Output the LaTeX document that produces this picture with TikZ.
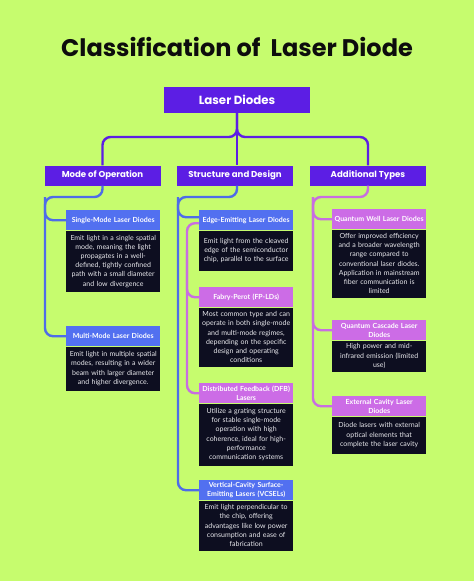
\documentclass[tikz,border=0pt]{standalone}
\usepackage{fontspec}
\setmainfont{Lato}
\newfontfamily\titlefont{Poppins}
\newfontfamily\headfont{Lato}
\usepackage{tikz}
\usetikzlibrary{positioning}
\definecolor{bggreen}{RGB}{198,252,110}
\definecolor{rootpurple}{RGB}{92,30,228}
\definecolor{headblue}{RGB}{82,112,240}
\definecolor{headpink}{RGB}{204,108,230}
\definecolor{bodydark}{RGB}{13,14,32}
\definecolor{bodytext}{RGB}{232,232,236}
\definecolor{lineblue}{RGB}{78,108,232}
\definecolor{linepink}{RGB}{200,110,225}
\tikzset{
  rootbox/.style={fill=rootpurple, text=white, minimum width=146pt, minimum height=26pt, inner sep=0pt, font=\titlefont\bfseries\fontsize{11.8}{13}\selectfont},
  catbox/.style={fill=rootpurple, text=white, minimum width=116pt, minimum height=20pt, inner sep=0pt, font=\titlefont\bfseries\fontsize{8.6}{10}\selectfont},
  subhead/.style={text=white, minimum height=20pt, text width=93pt, inner xsep=0.5pt, inner ysep=1pt, align=center, anchor=north west, font=\headfont\bfseries\fontsize{7}{8.8}\selectfont},
  bluehead/.style={subhead, fill=headblue},
  pinkhead/.style={subhead, fill=headpink},
  descbox/.style={fill=bodydark, text=bodytext, text width=93pt, inner xsep=0.5pt, inner ysep=1pt, align=center, anchor=north, font=\fontsize{7}{9.2}\selectfont},
  rootline/.style={draw=rootpurple, line width=2.4pt, rounded corners=8pt},
  blueline/.style={draw=lineblue, line width=2.4pt, rounded corners=8pt},
  pinkline/.style={draw=linepink, line width=2.4pt, rounded corners=8pt}
}

\begin{document}
\begin{tikzpicture}[x=1pt,y=-1pt]
  \fill[bggreen] (0,0) rectangle (474,581);
  \useasboundingbox (0,0) rectangle (474,581);
  \node[font=\titlefont\bfseries\fontsize{24}{27}\selectfont, text=black!95] (title) at (237,47) {Classification of\ \ Laser Diode};

  \node[rootbox] (root) at (237,100) {Laser Diodes};
  \node[catbox] (mode) at (102.5,175.5) {Mode of Operation};
  \node[catbox] (struct) at (235,175.5) {Structure and Design};
  \node[catbox] (add) at (368,175.5) {Additional Types};

  % mode of operation
  \node[bluehead] (sm) at (66,210) {Single-Mode Laser Diodes};
  \node[descbox, minimum height=61pt] (smtext) at (sm.south) {Emit light in a single spatial\\ mode, meaning the light\\ propagates in a well-\\ defined, tightly confined\\ path with a small diameter\\ and low divergence};
  \node[bluehead] (mm) at (66,326) {Multi-Mode Laser Diodes};
  \node[descbox, minimum height=44pt] (mmtext) at (mm.south) {Emit light in multiple spatial\\ modes, resulting in a wider\\ beam with larger diameter\\ and higher divergence.};

  % structure and design
  \node[bluehead] (ee) at (199,210) {Edge-Emitting Laser Diodes};
  \node[descbox, minimum height=40pt] (eetext) at (ee.south) {Emit light from the cleaved\\ edge of the semiconductor\\ chip, parallel to the surface};
  \node[pinkhead] (fp) at (199,287) {Fabry-Perot (FP-LDs)};
  \node[descbox, minimum height=59pt] (fptext) at (fp.south) {Most common type and can\\ operate in both single-mode\\ and multi-mode regimes,\\ depending on the specific\\ design and operating\\ conditions};
  \node[pinkhead] (dfb) at (199,383) {Distributed Feedback (DFB)\\ Lasers};
  \node[descbox, minimum height=62pt] (dfbtext) at (dfb.south) {Utilize a grating structure\\ for stable single-mode\\ operation with high\\ coherence, ideal for high-\\ performance\\ communication systems};
  \node[bluehead] (vc) at (199,480) {Vertical-Cavity Surface-\\ Emitting Lasers (VCSELs)};
  \node[descbox, minimum height=50pt] (vctext) at (vc.south) {Emit light perpendicular to\\ the chip, offering\\ advantages like low power\\ consumption and ease of\\ fabrication};

  % additional types
  \node[pinkhead] (qw) at (332,209) {Quantum Well Laser Diodes};
  \node[descbox, minimum height=68pt] (qwtext) at (qw.south) {Offer improved efficiency\\ and a broader wavelength\\ range compared to\\ conventional laser diodes.\\ Application in mainstream\\ fiber communication is\\ limited};
  \node[pinkhead] (qc) at (332,320) {Quantum Cascade Laser\\ Diodes};
  \node[descbox, minimum height=31pt] (qctext) at (qc.south) {High power and mid-\\ infrared emission (limited\\ use)};
  \node[pinkhead] (ec) at (332,396) {External Cavity Laser\\ Diodes};
  \node[descbox, minimum height=37pt] (ectext) at (ec.south) {Diode lasers with external\\ optical elements that\\ complete the laser cavity};

  % connectors
  \coordinate (rootSplit) at (237,137);
  \coordinate (modeSpine) at (45,197);
  \coordinate (strSpine) at (178,197);
  \coordinate (fpSpine) at (187,250);
  \coordinate (addSpine) at (313,197);
  \draw[rootline] (root.south) |- (rootSplit) -| (mode.north);
  \draw[rootline] (root.south) |- (rootSplit) -| (add.north);
  \draw[rootline] (root.south) -- (rootSplit) -- (rootSplit |- struct.north);

  \draw[blueline] (mode.south) |- (modeSpine) |- (mm.west);
  \draw[blueline] (modeSpine) |- (sm.west);

  \draw[blueline] (struct.south -| rootSplit) |- (strSpine) |- (vc.west);
  \draw[blueline] (strSpine) |- ([yshift=3pt]ee.west);
  \draw[pinkline] ([yshift=-3pt]ee.west) -| (fpSpine) |- (dfb.west);
  \draw[pinkline] (fpSpine) |- (fp.west);

  \draw[pinkline] (add.south) |- (addSpine) |- (ec.west);
  \draw[pinkline] (addSpine) |- (qw.west);
  \draw[pinkline] (addSpine) |- (qc.west);
\end{tikzpicture}
\end{document}
